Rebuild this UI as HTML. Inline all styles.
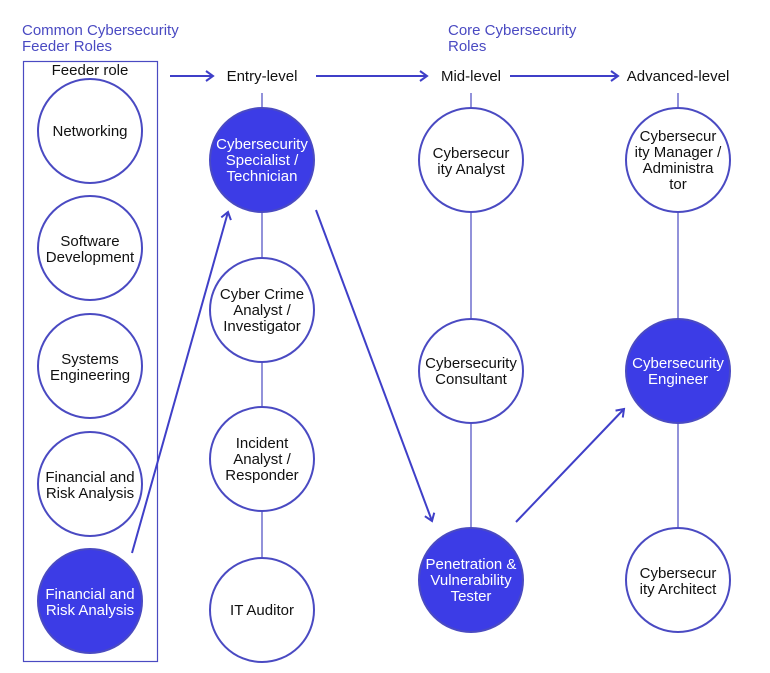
<!DOCTYPE html>
<html><head><meta charset="utf-8"><style>
body{margin:0;background:#fff}
svg text{font-family:"Liberation Sans",sans-serif}
</style></head><body>
<svg width="770" height="668" viewBox="0 0 770 668" xmlns="http://www.w3.org/2000/svg">
<defs><marker id="a" markerWidth="12" markerHeight="12" refX="9" refY="6" orient="auto" markerUnits="userSpaceOnUse"><path d="M2,1 L9,6 L2,11" fill="none" stroke="#3f3fc8" stroke-width="2"/></marker></defs>
<g fill="#4a4ac2" font-size="15">
<text x="22" y="35">Common Cybersecurity</text><text x="22" y="51">Feeder Roles</text>
<text x="448" y="35">Core Cybersecurity</text><text x="448" y="51">Roles</text>
</g>
<rect x="23.5" y="61.5" width="134" height="600" fill="none" stroke="#4a4ac2" stroke-width="1.2"/>
<g fill="#111" font-size="15" text-anchor="middle">
<text x="90" y="75">Feeder role</text>
<text x="262" y="81">Entry-level</text><text x="471" y="81">Mid-level</text><text x="678" y="81">Advanced-level</text>
</g>
<g stroke="#3f3fc8" stroke-width="2" fill="none" marker-end="url(#a)">
<line x1="170" y1="76" x2="213" y2="76"/><line x1="316" y1="76" x2="427" y2="76"/><line x1="510" y1="76" x2="618" y2="76"/>
<line x1="132" y1="553" x2="228" y2="212"/><line x1="316" y1="210" x2="432" y2="521"/><line x1="516" y1="522" x2="624" y2="409"/>
</g>
<g stroke="#4a4ac2" stroke-width="1.2">
<line x1="262" y1="93" x2="262" y2="560"/><line x1="471" y1="93" x2="471" y2="530"/><line x1="678" y1="93" x2="678" y2="530"/>
</g>
<g stroke="#4a4ac2" stroke-width="2" fill="#fff">
<circle cx="90" cy="131" r="52"/><circle cx="90" cy="248" r="52"/><circle cx="90" cy="366" r="52"/><circle cx="90" cy="484" r="52"/><circle cx="90" cy="601" r="52" fill="#3c3ce6"/>
<circle cx="262" cy="160" r="52" fill="#3c3ce6"/><circle cx="262" cy="310" r="52"/><circle cx="262" cy="459" r="52"/><circle cx="262" cy="610" r="52"/>
<circle cx="471" cy="160" r="52"/><circle cx="471" cy="371" r="52"/><circle cx="471" cy="580" r="52" fill="#3c3ce6"/>
<circle cx="678" cy="160" r="52"/><circle cx="678" cy="371" r="52" fill="#3c3ce6"/><circle cx="678" cy="580" r="52"/>
</g>
<g fill="#111" font-size="15" text-anchor="middle">
<text x="90" y="136">Networking</text>
<text x="90" y="246">Software</text><text x="90" y="262">Development</text>
<text x="90" y="364">Systems</text><text x="90" y="380">Engineering</text>
<text x="90" y="482">Financial and</text><text x="90" y="498">Risk Analysis</text>
<text x="262" y="299">Cyber Crime</text><text x="262" y="315">Analyst /</text><text x="262" y="331">Investigator</text>
<text x="262" y="448">Incident</text><text x="262" y="464">Analyst /</text><text x="262" y="480">Responder</text>
<text x="262" y="615">IT Auditor</text>
<text x="471" y="158">Cybersecur</text><text x="471" y="174">ity Analyst</text>
<text x="471" y="368">Cybersecurity</text><text x="471" y="384">Consultant</text>
<text x="678" y="141">Cybersecur</text><text x="678" y="157">ity Manager /</text><text x="678" y="173">Administra</text><text x="678" y="189">tor</text>
<text x="678" y="578">Cybersecur</text><text x="678" y="594">ity Architect</text>
</g>
<g fill="#fff" font-size="15" text-anchor="middle">
<text x="90" y="599">Financial and</text><text x="90" y="615">Risk Analysis</text>
<text x="262" y="149">Cybersecurity</text><text x="262" y="165">Specialist /</text><text x="262" y="181">Technician</text>
<text x="471" y="569">Penetration &amp;</text><text x="471" y="585">Vulnerability</text><text x="471" y="601">Tester</text>
<text x="678" y="368">Cybersecurity</text><text x="678" y="384">Engineer</text>
</g>
</svg>
</body></html>
